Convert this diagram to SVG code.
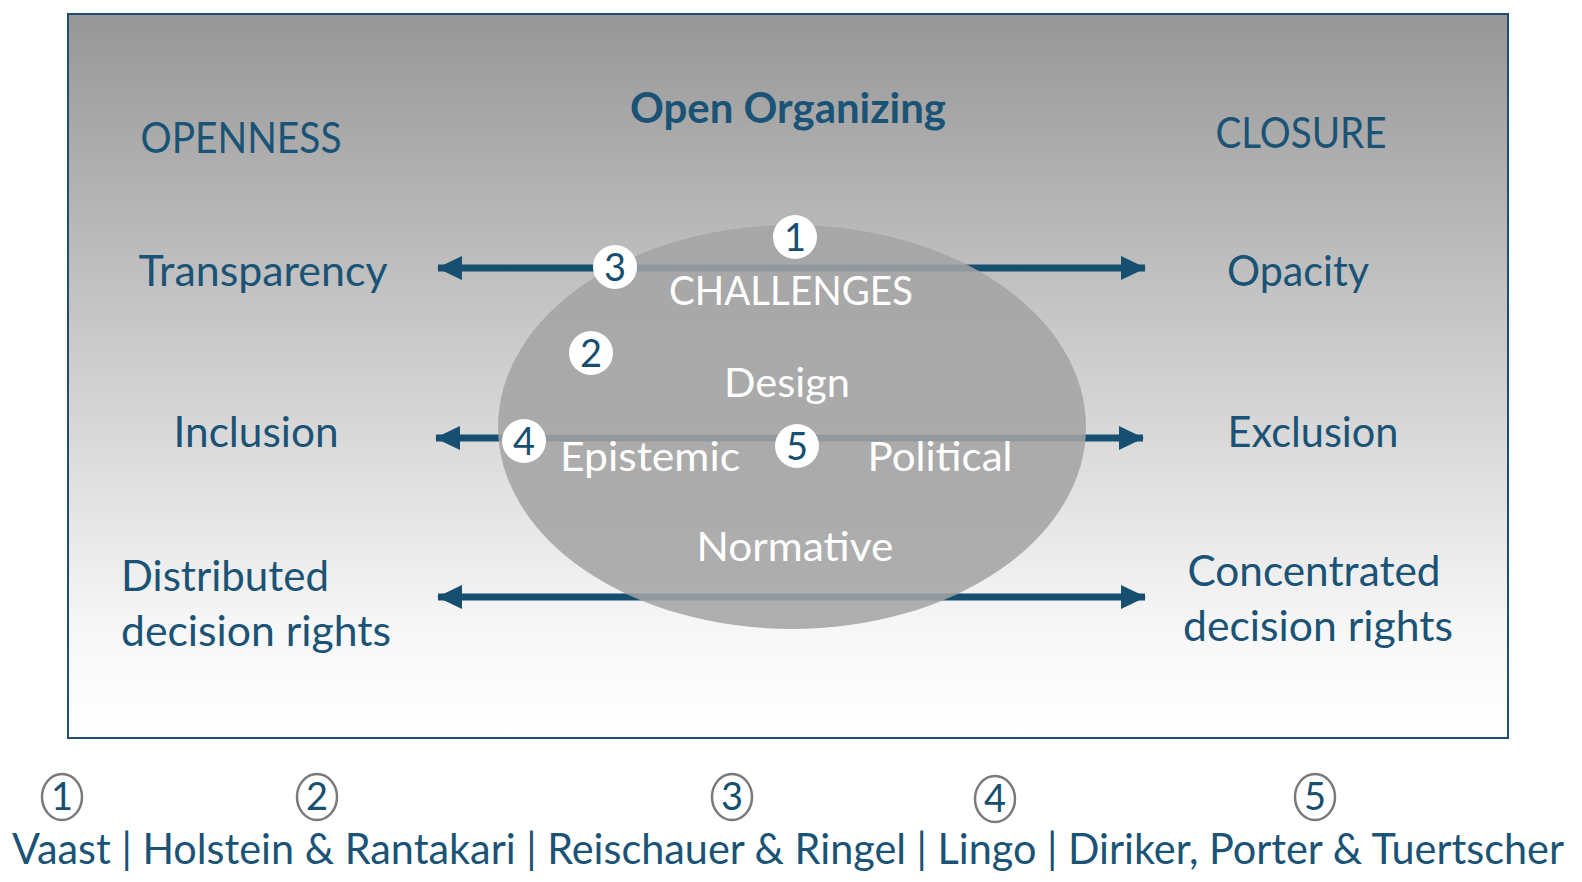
<svg xmlns="http://www.w3.org/2000/svg" width="1582" height="882" viewBox="0 0 1582 882">
<defs>
<linearGradient id="bg" x1="0" y1="0" x2="0" y2="1">
<stop offset="0" stop-color="#979797"/>
<stop offset="0.45" stop-color="#cacaca"/>
<stop offset="0.85" stop-color="#f7f7f7"/>
<stop offset="1" stop-color="#ffffff"/>
</linearGradient>
<marker id="ah" viewBox="0 0 26 26" refX="24" refY="13" markerWidth="26" markerHeight="26" markerUnits="userSpaceOnUse" orient="auto-start-reverse">
<path d="M0,1 L25,13 L0,25 Z" fill="#174f70"/>
</marker>
<style>
.t{font-family:Lato,"Open Sans","Liberation Sans",sans-serif;fill:#1a5375;font-size:42px}
.w{font-family:Lato,"Open Sans","Liberation Sans",sans-serif;fill:#ffffff;font-size:40px}
.n{font-family:Lato,"Open Sans","Liberation Sans",sans-serif;fill:#174f70;font-size:38px;text-anchor:middle}
.c{text-anchor:middle}
.arr{stroke:#174f70;stroke-width:7;fill:none;marker-start:url(#ah);marker-end:url(#ah)}
.badge{fill:#ffffff}
.ring{fill:none;stroke:#7a7a7a;stroke-width:2.5}
</style>
</defs>
<rect id="frame" x="68" y="14" width="1440" height="724" fill="url(#bg)" stroke="#1f4e6e" stroke-width="2"/>
<g id="connectors">
<line class="arr" x1="438" y1="268" x2="1145" y2="268"/>
<line class="arr" x1="436" y1="438" x2="1143" y2="438"/>
<line class="arr" x1="438" y1="597" x2="1145" y2="597"/>
</g>
<g id="challenges">
<ellipse cx="792" cy="427" rx="294" ry="202" fill="#a4a4a4" fill-opacity="0.88"/>
<text class="w c" x="791" y="305" textLength="244" lengthAdjust="spacingAndGlyphs">CHALLENGES</text>
<text class="w c" x="787" y="397" textLength="126" lengthAdjust="spacingAndGlyphs">Design</text>
<text class="w c" x="650" y="471" textLength="180" lengthAdjust="spacingAndGlyphs">Epistemic</text>
<text class="w c" x="940" y="471" textLength="145" lengthAdjust="spacingAndGlyphs">Political</text>
<text class="w c" x="795" y="561" textLength="197" lengthAdjust="spacingAndGlyphs">Normative</text>
</g>
<g id="badges">
<g id="b1"><circle class="badge" cx="795" cy="237" r="22"/><text class="n" x="795" y="251">1</text></g>
<g id="b3"><circle class="badge" cx="615" cy="267" r="22"/><text class="n" x="615" y="281">3</text></g>
<g id="b2"><circle class="badge" cx="591" cy="353" r="22"/><text class="n" x="591" y="367">2</text></g>
<g id="b4"><circle class="badge" cx="524" cy="441" r="22"/><text class="n" x="524" y="455">4</text></g>
<g id="b5"><circle class="badge" cx="797" cy="446" r="22"/><text class="n" x="797" y="460">5</text></g>
</g>
<g id="title"><text class="t c" x="788" y="123" font-weight="bold" textLength="316" lengthAdjust="spacingAndGlyphs">Open Organizing</text></g>
<g id="openness"><text class="t c" x="241" y="153" textLength="201" lengthAdjust="spacingAndGlyphs">OPENNESS</text></g>
<g id="closure"><text class="t c" x="1301" y="148" textLength="171" lengthAdjust="spacingAndGlyphs">CLOSURE</text></g>
<g id="transparency"><text class="t c" x="263" y="286" textLength="249" lengthAdjust="spacingAndGlyphs">Transparency</text></g>
<g id="opacity"><text class="t c" x="1298" y="286" textLength="142" lengthAdjust="spacingAndGlyphs">Opacity</text></g>
<g id="inclusion"><text class="t c" x="256" y="447" textLength="165" lengthAdjust="spacingAndGlyphs">Inclusion</text></g>
<g id="exclusion"><text class="t c" x="1313" y="447" textLength="171" lengthAdjust="spacingAndGlyphs">Exclusion</text></g>
<g id="distributed">
<text class="t" x="121" y="591" textLength="208" lengthAdjust="spacingAndGlyphs">Distributed</text>
<text class="t" x="121" y="646" textLength="270" lengthAdjust="spacingAndGlyphs">decision rights</text>
</g>
<g id="concentrated">
<text class="t c" x="1314" y="586" textLength="253" lengthAdjust="spacingAndGlyphs">Concentrated</text>
<text class="t c" x="1318" y="641" textLength="270" lengthAdjust="spacingAndGlyphs">decision rights</text>
</g>
<g id="legend">
<g><ellipse class="ring" cx="62" cy="797" rx="20" ry="23"/><text class="n" x="62" y="810" font-size="36">1</text></g>
<g><ellipse class="ring" cx="317" cy="797" rx="20" ry="23"/><text class="n" x="317" y="810" font-size="36">2</text></g>
<g><ellipse class="ring" cx="732" cy="797" rx="20" ry="23"/><text class="n" x="732" y="810" font-size="36">3</text></g>
<g><ellipse class="ring" cx="995" cy="799" rx="20" ry="23"/><text class="n" x="995" y="812" font-size="36">4</text></g>
<g><ellipse class="ring" cx="1315" cy="797" rx="20" ry="23"/><text class="n" x="1315" y="810" font-size="36">5</text></g>
<text class="t" x="12" y="864" font-size="41" textLength="1552" lengthAdjust="spacingAndGlyphs">Vaast | Holstein &amp; Rantakari | Reischauer &amp; Ringel | Lingo | Diriker, Porter &amp; Tuertscher</text>
</g>
</svg>
